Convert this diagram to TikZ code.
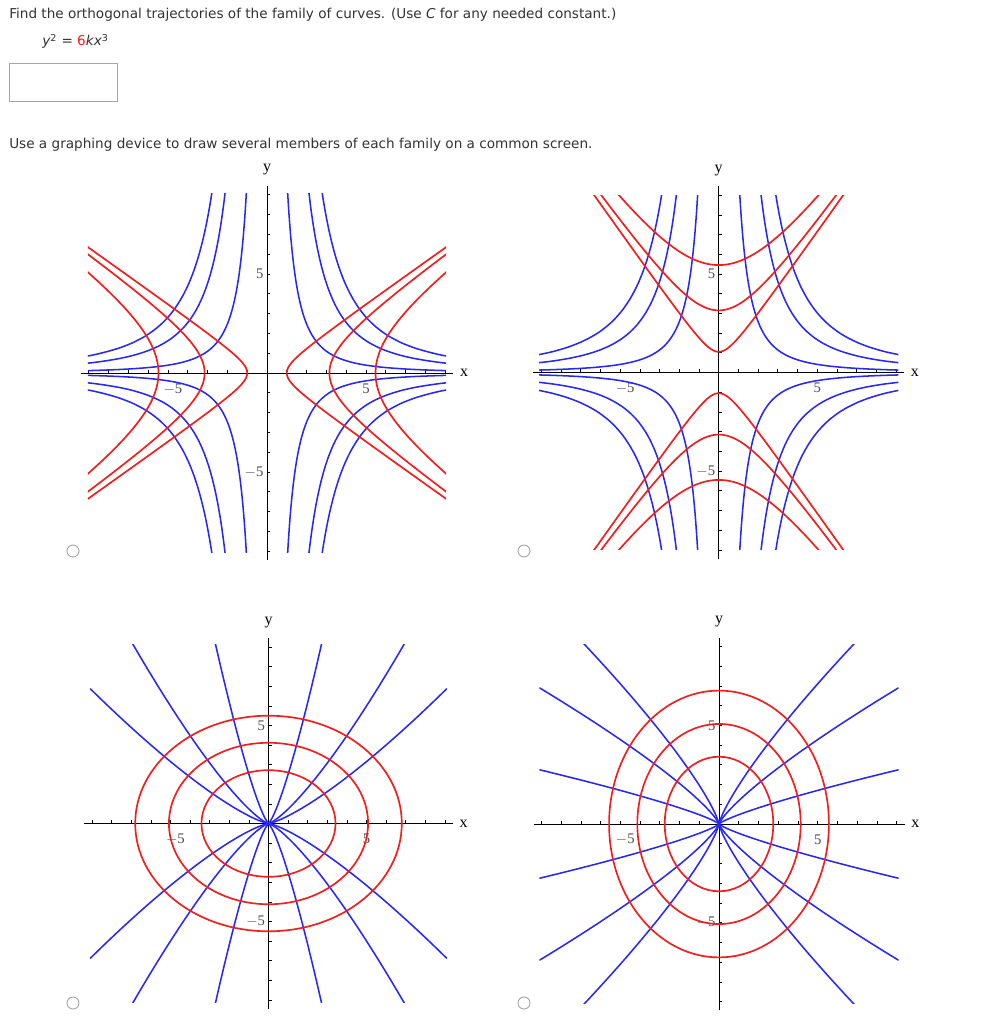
\documentclass[tikz,border=0pt]{standalone}
\usepackage{fontspec}
\setmainfont{Liberation Serif}
\newfontfamily\uifont{DejaVu Sans}
\definecolor{txt}{RGB}{51,51,51}
\definecolor{pblue}{RGB}{40,40,240}
\definecolor{pred}{RGB}{240,30,30}
\tikzset{
  axisline/.style={black,line width=0.7pt},
  tickmark/.style={black,line width=0.5pt},
  bluec/.style={pblue,line width=1.15pt},
  redc/.style={pred,line width=1.25pt},
  ticklbl/.style={font=\fontsize{11}{12}\selectfont,text=black!70,inner sep=1pt},
  axlbl/.style={font=\fontsize{12}{13}\selectfont,inner sep=1pt},
  radio/.style={draw=gray!80,line width=0.6pt,circle,minimum size=9pt,inner sep=0pt},
  uitext/.style={anchor=base west,inner sep=0,text=txt,font=\uifont\fontsize{10.2}{12}\selectfont},
}
\newcommand\myaxes[1]{%
  \draw[axisline] (-9.4,0) -- (9.4,0);
  \draw[axisline] (0,-9.45) -- (0,9.45);
  \foreach \i in {-9,...,9} {
    \draw[tickmark] (\i,0) -- (\i,0.17);
    \draw[tickmark] (0,\i) -- (0.17,\i);
  }
  \node[axlbl] (x#1) at (9.95,0) {x};
  \node[axlbl] (y#1) at (0,10.25) {y};
  \node[ticklbl] (xp#1) at (5,-0.8) {5};
  \node[ticklbl] (xm#1) at (-4.75,-0.8) {$-$5};
  \node[ticklbl,anchor=east] (yp#1) at (-0.1,5) {5};
  \node[ticklbl,anchor=east] (ym#1) at (-0.1,-5) {$-$5};
}
\begin{document}
\begin{tikzpicture}[x=0.75pt,y=-0.75pt]
\useasboundingbox (0,0) rectangle (983,1024);
\fill[white] (0,0) rectangle (983,1024);
\node[uitext] (q1) at (9,19) {Find the orthogonal trajectories of the family of curves. (Use \textit{C} for any needed constant.)};
\node[uitext] (eq) at (42,46) {\textit{y}\textsuperscript{2} = \textcolor{pred}{6}\textit{kx}\textsuperscript{3}};
\node[draw=gray!70,line width=0.7pt,minimum width=81pt,minimum height=28.5pt,inner sep=0,anchor=north west] (ans) at (9,63) {};
\node[uitext] (q2) at (9,148) {Use a graphing device to draw several members of each family on a common screen.};
\node[radio] (r1) at (73,551) {};
\node[radio] (r2) at (524,551) {};
\node[radio] (r3) at (73,1003) {};
\node[radio] (r4) at (524,1003) {};

% top-left
\begin{scope}[shift={(267,373)},x=14.85pt,y=14.85pt]
  \myaxes{a}
  \begin{scope}
    \clip (-9.05,-9.05) rectangle (9.05,9.05);
    \foreach \sx in {1,-1} \foreach \sy in {1,-1} \foreach \cc in {9.9,40.8,70.6}
      \draw[bluec,xscale=\sx,yscale=\sy] plot[domain=-0.1:2.21,samples=70,smooth] ({exp(\x)},{\cc*exp(-2*\x)});
    \foreach \sx in {1,-1} \foreach \aa in {1.0,3.15,5.48}
      \draw[redc,xscale=\sx] plot[domain=-3.3:3.3,samples=90,smooth] ({\aa*cosh(\x)},{0.707*\aa*sinh(\x)});
  \end{scope}
\end{scope}

% top-right
\begin{scope}[shift={(718.7,372.5)},x=14.78pt,y=14.78pt]
  \myaxes{b}
  \begin{scope}
    \clip (-9.3,-9.0) rectangle (9.3,9.0);
    \foreach \sx in {1,-1} \foreach \sy in {1,-1} \foreach \cc in {10.3,41.6,75.7}
      \draw[bluec,xscale=\sx,yscale=\sy] plot[domain=0:2.21,samples=70,smooth] ({exp(\x)},{\cc*exp(-2*\x)});
    \foreach \sy in {1,-1} \foreach \aa in {1.05,3.15,5.45}
      \draw[redc,yscale=\sy] plot[domain=-3.3:3.3,samples=90,smooth] ({0.707*\aa*sinh(\x)},{\aa*cosh(\x)});
  \end{scope}
\end{scope}

% bottom-left
\begin{scope}[shift={(268.5,823.5)},x=14.7pt,y=14.7pt]
  \myaxes{c}
  \begin{scope}
    \clip (-9.1,-9.15) rectangle (9.1,9.15);
    \foreach \sx in {1,-1} \foreach \sy in {1,-1} \foreach \cc in {2.51,0.74,0.39}
      \draw[bluec,xscale=\sx,yscale=\sy] (0,0) -- plot[domain=0.02:9.1,samples=60,smooth] (\x,{\cc*pow(\x,1.3)});
    \foreach \ra/\rb in {6.8/5.5,5.08/4.12,3.42/2.72}
      \draw[redc] (0,0) ellipse [x radius=\ra, y radius=\rb];
  \end{scope}
\end{scope}

% bottom-right
\begin{scope}[shift={(719,824)},x=14.8pt,y=14.8pt]
  \myaxes{d}
  \begin{scope}
    \clip (-9.1,-9.1) rectangle (9.1,9.1);
    \foreach \sx in {1,-1} \foreach \sy in {1,-1} \foreach \cc in {1.96,1.18,0.47}
      \draw[bluec,xscale=\sx,yscale=\sy] (0,0) -- plot[domain=0.02:9.1,samples=60,smooth] (\x,{\cc*pow(\x,0.8)});
    \foreach \ra/\rb in {5.57/6.76,4.14/5.07,2.75/3.41}
      \draw[redc] (0,0) ellipse [x radius=\ra, y radius=\rb];
  \end{scope}
\end{scope}
\end{tikzpicture}
\end{document}
